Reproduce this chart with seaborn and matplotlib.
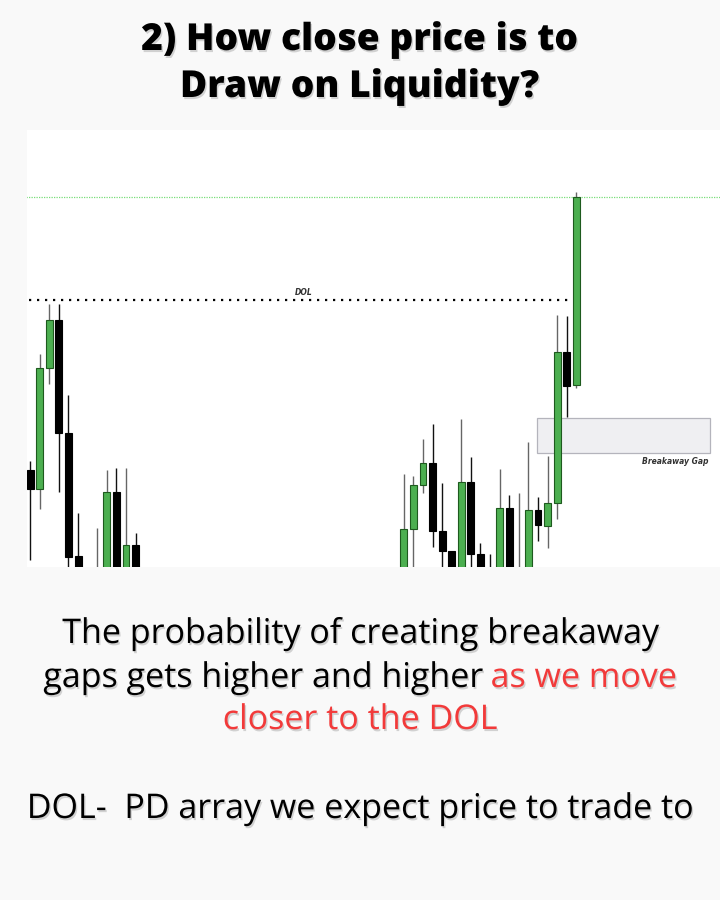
import matplotlib
matplotlib.use("Agg")
import matplotlib.pyplot as plt
import matplotlib.patheffects as pe
from matplotlib.patches import Rectangle
import seaborn as sns
import pandas as pd

# ---------------------------
# candle data (bar number, price in points)
# ---------------------------
bar_idx = [0, 1, 2, 3, 4, 5, 7, 8, 9, 10, 11,
           39, 40, 41, 42, 43, 44, 45, 46, 47, 48,
           49, 50, 51, 52, 53, 54, 55, 56, 57]
opens = [97, 78, 199, 247, 134, 11, -30, -10, 75, -5, 22,
         -5, 38, 82, 104, 36, 16, -8, 85, 13, -3,
         -10, 59, -15, -3, 57, 41, 64, 215, 182]
highs = [106, 213, 263, 263, 172, 54, 39, 97, 99, 99, 34,
         93, 91, 128, 143, 84, 16, 148, 110, 24, 13,
         98, 72, 74, 125, 70, 111, 252, 251, 375]
lows = [7, 58, 183, 75, -8, -20, -35, -15, -15, -10, -10,
        -10, -8, 74, 20, -5, -12, -12, -5, -10, -20,
        -15, -10, -20, -8, 26, 19, 48, 150, 179]
closes = [78, 199, 247, 134, 10, -15, -5, 75, -10, 22, -5,
          38, 82, 104, 36, 16, -8, 85, 13, -5, -15,
          59, -5, -3, 57, 42, 64, 215, 181, 370]

dol_level = 267
high_level = 370
gap_low, gap_high = 114, 149
gap_start, gap_end = 52.9, 71.0

df = pd.DataFrame({"bar": bar_idx, "open": opens, "high": highs,
                   "low": lows, "close": closes})
df["up"] = df["close"] >= df["open"]

sns.set_theme(style="white")
plt.rcParams["font.family"] = ["Open Sans", "DejaVu Sans"]

fig = plt.figure(figsize=(7.2, 9), dpi=100, facecolor="#f9f9f9")
ax = fig.add_axes([27 / 720, 1 - 567 / 900, 693 / 720, 437 / 900])
ax.set_facecolor("white")

# breakaway gap box
ax.add_patch(Rectangle((gap_start, gap_low), gap_end - gap_start, gap_high - gap_low,
                       facecolor="#efeff2", edgecolor="#b4b4bc", linewidth=0.9, zorder=1))
ax.text(gap_end - 0.2, gap_low - 4, "Breakaway Gap", ha="right", va="top",
        fontsize=5.5, style="italic", fontweight="bold", color="#333333",
        family=["DejaVu Sans"])

# levels
ax.hlines(high_level, -1, 80, colors="#3fcf3f", linestyles=(0, (1, 1)), linewidth=0.9,
          alpha=0.7, zorder=1)
ax.hlines(dol_level, -0.1, 56.4, colors="black", linestyles=(0, (1, 2.6)), linewidth=1.6, zorder=2)
ax.text(28.5, dol_level + 3, "DOL", ha="center", va="bottom", fontsize=5.5,
        style="italic", fontweight="bold", color="#333333", family=["DejaVu Sans"])

# candles
up = df[df["up"]]
dn = df[~df["up"]]
ax.vlines(up["bar"], up["low"], up["high"], colors="#666666", linewidth=1, zorder=3)
ax.vlines(dn["bar"], dn["low"], dn["high"], colors="#111111", linewidth=1, zorder=3)
ax.bar(up["bar"], up["close"] - up["open"], bottom=up["open"], width=0.72,
       color="#4caf50", edgecolor="#1e5a1e", linewidth=0.8, zorder=4)
ax.bar(dn["bar"], dn["close"] - dn["open"], bottom=dn["open"], width=0.72,
       color="black", edgecolor="black", linewidth=0.8, zorder=4)

ax.set_xlim(-0.33, 72.0)
ax.set_ylim(0, 437)
ax.set_xticks([])
ax.set_yticks([])
sns.despine(ax=ax, left=True, bottom=True)

# ---------------------------
# text
# ---------------------------
shadow = [pe.withSimplePatchShadow(offset=(1, -1.5), shadow_rgbFace="#888888", alpha=0.35)]

for line, yb in [("2) How close price is to", 50), ("Draw on Liquidity?", 97)]:
    fig.text(0.5, 1 - yb / 900, line, ha="center", va="baseline", fontsize=26.8,
             fontweight="heavy", color="black", path_effects=shadow)

body_size = 24.5
red = "#f23a3a"
fig.text(0.5, 1 - 643 / 900, "The probability of creating breakaway", ha="center",
         va="baseline", fontsize=body_size, color="black", path_effects=shadow)

# mixed colour line
part_a = "gaps gets higher and higher"
part_b = "as we move"
full = fig.text(0.5, 1 - 687 / 900, part_a + " " + part_b, ha="center", va="baseline",
                fontsize=body_size, color="black", alpha=0)
renderer = fig.canvas.get_renderer()
fb = full.get_window_extent(renderer)
fig.text(fb.x0 / 720, 1 - 687 / 900, part_a, ha="left", va="baseline",
         fontsize=body_size, color="black", path_effects=shadow)
fig.text(fb.x1 / 720, 1 - 687 / 900, part_b, ha="right", va="baseline",
         fontsize=body_size, color=red, path_effects=shadow)

fig.text(0.5, 1 - 729 / 900, "closer to the DOL", ha="center", va="baseline",
         fontsize=body_size, color=red, path_effects=shadow)
fig.text(0.5, 1 - 818 / 900, "DOL-  PD array we expect price to trade to", ha="center",
         va="baseline", fontsize=body_size, color="black", path_effects=shadow)

fig.savefig("out.png", dpi=100, facecolor=fig.get_facecolor())
